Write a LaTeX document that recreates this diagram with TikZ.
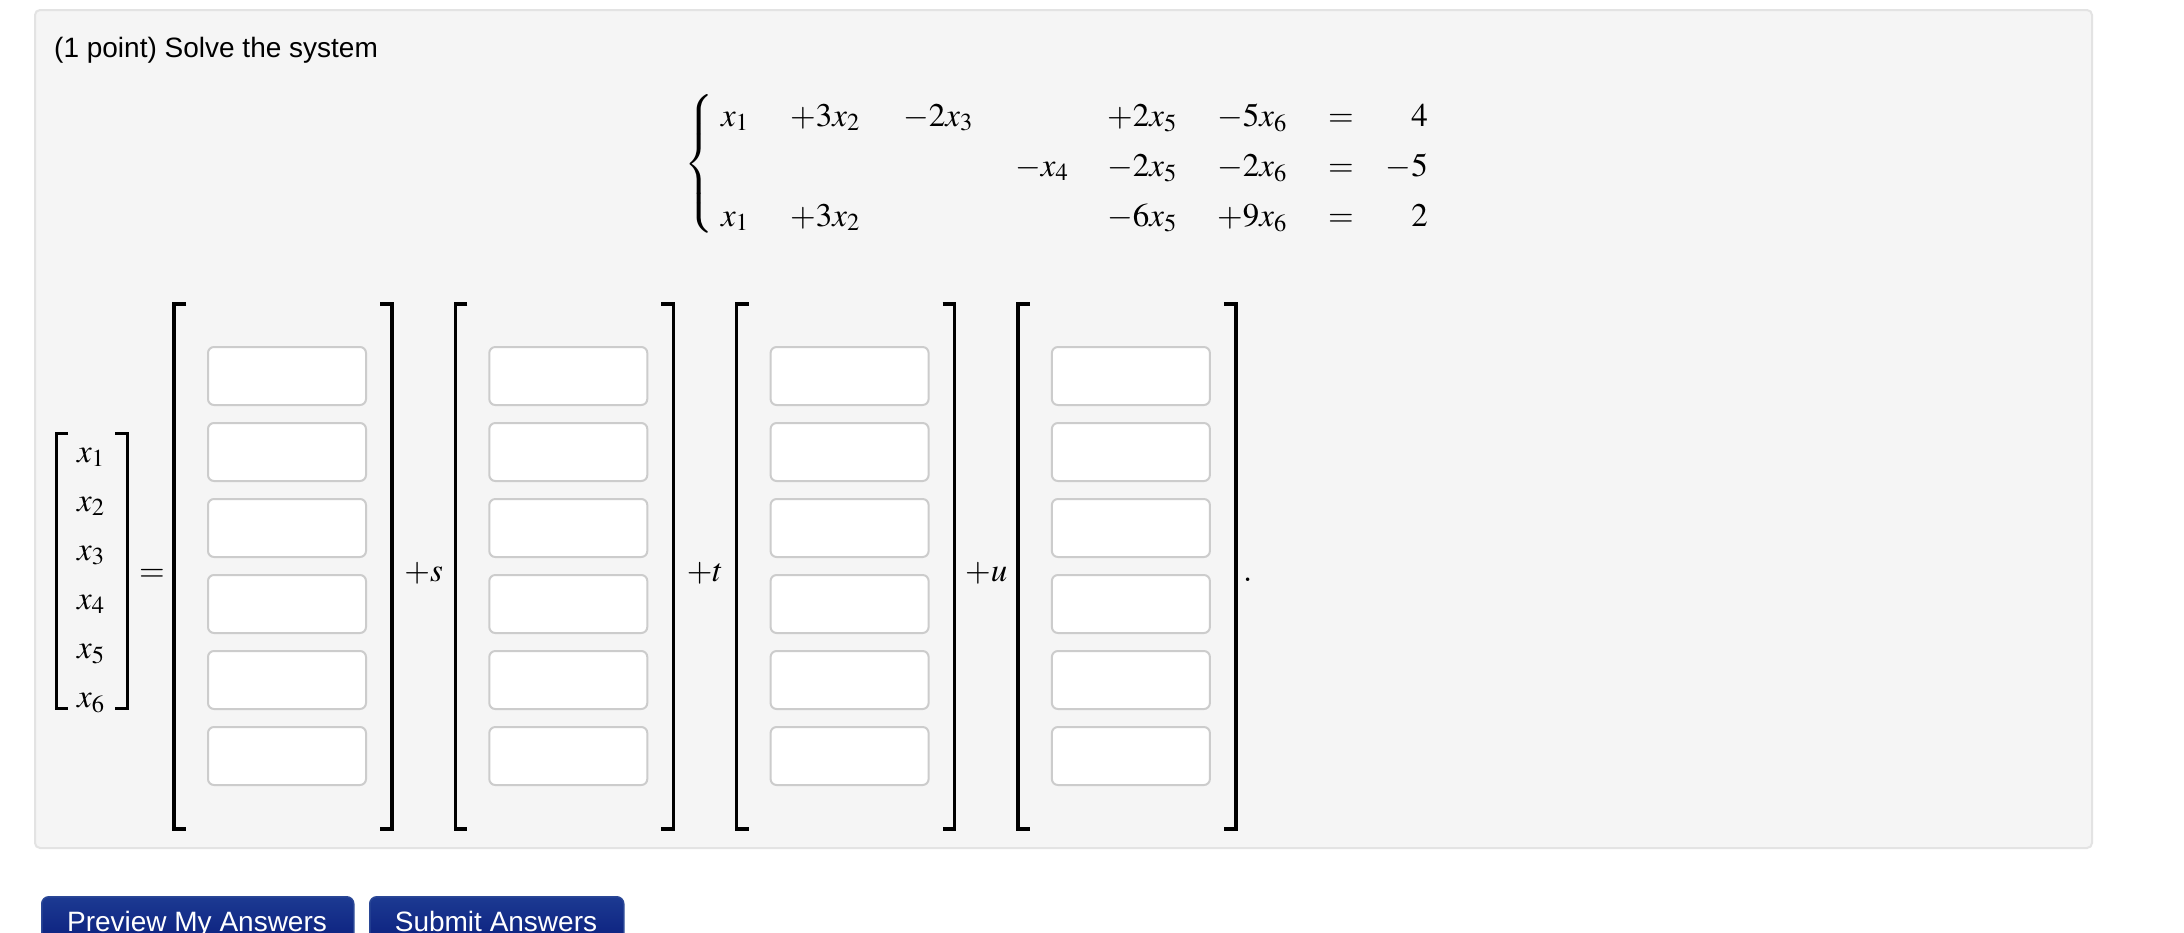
\documentclass[tikz,border=0pt]{standalone}
\usepackage{amsmath}
\usepackage{mathptmx}
\usepackage[no-math]{fontspec}
\newfontfamily\uifont{Liberation Sans}
\definecolor{panelbg}{HTML}{F5F5F5}
\definecolor{panelline}{HTML}{E3E3E3}
\definecolor{boxline}{HTML}{CCCCCC}
\definecolor{btnedge}{HTML}{2A4796}
\definecolor{btntop}{HTML}{1C3A92}
\definecolor{btnbot}{HTML}{000D70}

\begin{document}
\begin{tikzpicture}[x=1pt,y=-1pt]
\tikzset{mathtxt/.style={font=\fontsize{33}{39}\selectfont,inner sep=0pt}}
\tikzset{term/.style={mathtxt,anchor=base west}}
\tikzset{uitext/.style={font=\uifont\fontsize{28}{34}\selectfont,inner sep=0pt}}
\tikzset{answerbox/.style={draw=boxline,line width=2pt,fill=white,rounded corners=6pt,
  minimum width=158pt,minimum height=58pt,anchor=north west,inner sep=0pt}}
\tikzset{bracketline/.style={line width=3.5pt}}
\tikzset{button/.style={draw=btnedge,line width=1.5pt,rounded corners=7pt,top color=btntop,bottom color=btnbot,
  anchor=north west,inner sep=0pt,minimum height=80pt}}
\useasboundingbox (0,0) rectangle (2184,932);
\clip (0,0) rectangle (2184,932);
\fill[white] (0,0) rectangle (2184,932);
\draw[panelline,fill=panelbg,line width=2pt,rounded corners=5pt] (35,10) rectangle (2092,848);
\node[uitext,anchor=base west] (title) at (54,57) {(1 point) Solve the system};
% the system
\node[mathtxt] (brace) at (700,164) {$\left\{\vrule height 72pt depth 56pt width 0pt\right.$};
\foreach \px/\py/\t [count=\i] in {721/126/x_1, 790/126/+3x_2, 903/126/-2x_3, 1107/126/+2x_5, 1217/126/-5x_6,
  1015/176/-x_4, 1107/176/-2x_5, 1217/176/-2x_6,
  721/226/x_1, 790/226/+3x_2, 1107/226/-6x_5, 1217/226/+9x_6}
  \node[term] (term\i) at (\px,\py) {$\t$};
\foreach \py/\v [count=\i] in {126/4, 176/-5, 226/2} {
  \node[term] (eq\i) at (1328,\py) {$=$};
  \node[mathtxt,anchor=base east] (rhs\i) at (1428,\py) {$\v$};
}
% the vector of unknowns
\draw[line width=3pt] (68,433) -- (56,433) -- (56,708) -- (68,708);
\draw[line width=3pt] (115,433) -- (127,433) -- (127,708) -- (115,708);
\foreach \k in {1,...,6}
  \node[term] (lhs\k) at (77,{462+49*(\k-1)}) {$x_{\k}$};
\node[mathtxt,anchor=base] (equals) at (152,581) {$=$};
% four columns of answer boxes
\foreach \c in {0,...,3} {
  \pgfmathsetmacro\bx{207+281.3*\c}
  \draw[bracketline] (\bx-21,304) -- (\bx-33,304) -- (\bx-33,829) -- (\bx-21,829);
  \draw[bracketline] (\bx+173,304) -- (\bx+185,304) -- (\bx+185,829) -- (\bx+173,829);
  \foreach \r in {0,...,5}
    \node[answerbox] (box\c\r) at (\bx,{346+76*\r}) {};
}
\foreach \c/\p in {1/s, 2/t, 3/u}
  \node[mathtxt,anchor=base] (plus\p) at ({283+140.65*(2*\c-1)},581) {$+\p$};
\node[mathtxt,anchor=base west] (stop) at (1243,581) {$.$};
% buttons
\node[button,minimum width=312pt] (preview) at (41,896) {};
\node[button,minimum width=254pt] (submit) at (369,896) {};
\node[uitext,text=white,anchor=base] (previewtxt) at (197,931) {Preview My Answers};
\node[uitext,text=white,anchor=base] (submittxt) at (496,931) {Submit Answers};
\end{tikzpicture}
\end{document}
